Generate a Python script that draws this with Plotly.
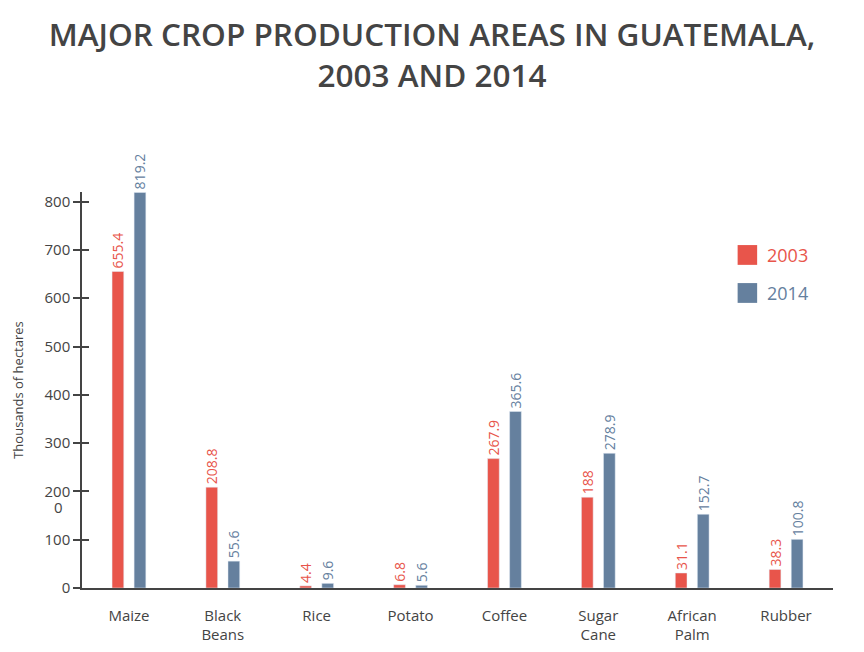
import plotly.graph_objects as go

categories = ["Maize", "Black<br>Beans", "Rice", "Potato", "Coffee", "Sugar<br>Cane", "African<br>Palm", "Rubber"]
values_2003 = [655.4, 208.8, 4.4, 6.8, 267.9, 188, 31.1, 38.3]
values_2014 = [819.2, 55.6, 9.6, 5.6, 365.6, 278.9, 152.7, 100.8]
labels_2003 = ["655.4", "208.8", "4.4", "6.8", "267.9", "188", "31.1", "38.3"]
labels_2014 = ["819.2", "55.6", "9.6", "5.6", "365.6", "278.9", "152.7", "100.8"]
y_ticks = [0, 100, 200, 300, 400, 500, 600, 700, 800]

RED = "#E8554B"
BLUE = "#65809E"
GREY = "#444444"
FONT = "Open Sans"

fig = go.Figure()
fig.add_trace(go.Bar(
    x=categories, y=values_2003, name="2003", marker_color=RED,
    width=0.125, offset=-0.18,
    text=labels_2003, textposition="outside", textangle=-90,
    constraintext="none",
    textfont=dict(color=RED, size=14, family=FONT), cliponaxis=False,
    showlegend=False,
))
fig.add_trace(go.Bar(
    x=categories, y=values_2014, name="2014", marker_color=BLUE,
    width=0.125, offset=0.055,
    text=labels_2014, textposition="outside", textangle=-90,
    constraintext="none",
    textfont=dict(color=BLUE, size=14, family=FONT), cliponaxis=False,
    showlegend=False,
))
# overlay axis for inside half of the cross ticks
fig.add_trace(go.Scatter(x=[None], y=[None], yaxis="y2", showlegend=False))

fig.update_layout(
    width=864, height=652,
    margin=dict(l=82, r=31, t=192, b=64, autoexpand=False),
    paper_bgcolor="white", plot_bgcolor="white",
    barmode="group",
    title=dict(
        text="MAJOR CROP PRODUCTION AREAS IN GUATEMALA,<br>2003 AND 2014",
        x=0.5, xanchor="center", y=0.93, yanchor="middle",
        font=dict(family=FONT, size=31.5, color=GREY, weight=600),
    ),
    xaxis=dict(
        showline=True, linecolor=GREY, linewidth=1.5,
        ticks="", showgrid=False, zeroline=False, automargin=False,
        tickfont=dict(family=FONT, size=15, color=GREY),
        ticklabelstandoff=13,
        range=[-0.5, 7.5],
    ),
    yaxis=dict(
        range=[0, 820], tickvals=y_ticks, automargin=False,
        showline=True, linecolor=GREY, linewidth=1.5,
        ticks="outside", ticklen=7, tickwidth=1.5, tickcolor=GREY,
        showgrid=False, zeroline=False,
        tickfont=dict(family=FONT, size=15, color=GREY),
        title=dict(text="Thousands of hectares", standoff=18,
                   font=dict(family=FONT, size=13, color=GREY)),
    ),
    yaxis2=dict(
        range=[0, 820], tickvals=y_ticks[1:], overlaying="y", side="left",
        ticks="inside", ticklen=7, tickwidth=1.5, tickcolor=GREY,
        showticklabels=False, showgrid=False, zeroline=False, showline=False,
    ),
)

fig.add_annotation(text="0", xref="paper", yref="y", x=-0.040, y=168,
                   showarrow=False, font=dict(family=FONT, size=15, color=GREY))

# legend drawn manually
for i, (name, col) in enumerate([("2003", RED), ("2014", BLUE)]):
    y0 = 0.816 - i * 0.096
    fig.add_shape(type="rect", xref="paper", yref="paper",
                  x0=0.873, x1=0.899, y0=y0, y1=y0 + 0.05,
                  fillcolor=col, line=dict(width=0))
    fig.add_annotation(text=name, xref="paper", yref="paper",
                       x=0.910, y=y0 + 0.025, xanchor="left", yanchor="middle",
                       showarrow=False, font=dict(family=FONT, size=18, color=col))

fig.write_html("out.html")
